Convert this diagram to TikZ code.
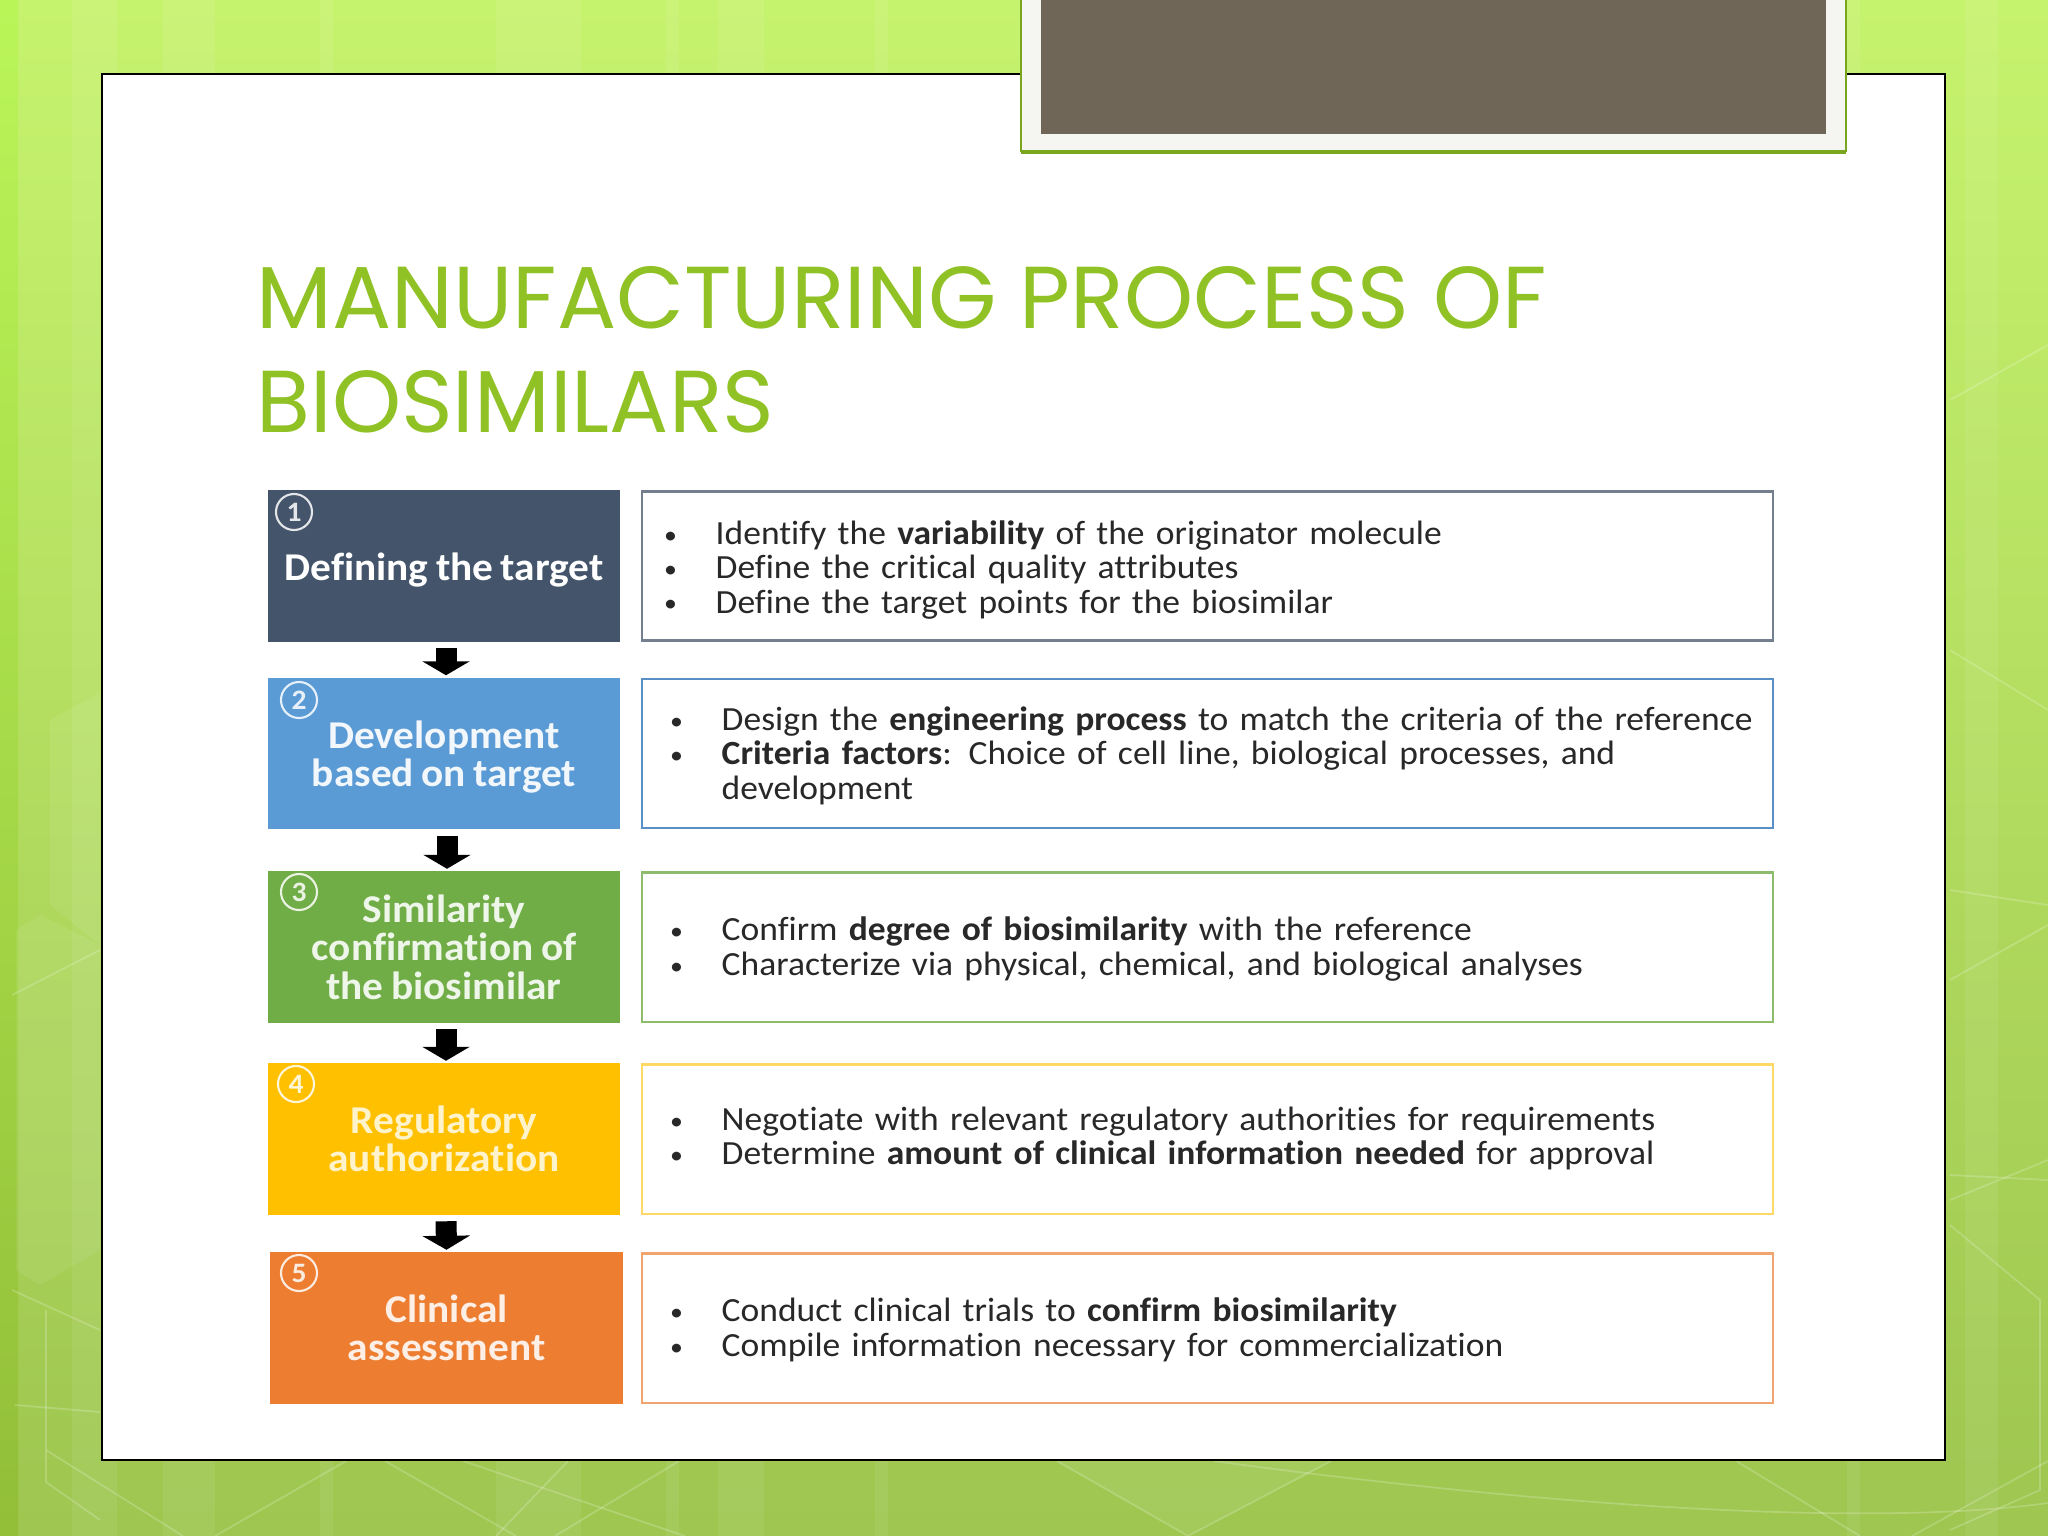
\documentclass[tikz,border=0pt]{standalone}
\usepackage{fontspec}
\usepackage{xcolor}
\setmainfont[Ligatures=NoCommon,FakeStretch=1.05,WordSpace=0.8]{Carlito}
\newfontfamily\titlefont{Poppins}
\usetikzlibrary{positioning,arrows.meta}
\definecolor{leaftop}{RGB}{198,243,110}
\definecolor{leafmid}{RGB}{178,226,90}
\definecolor{leafend}{RGB}{158,198,80}
\definecolor{edgetop}{RGB}{186,245,88}
\definecolor{edgeend}{RGB}{146,190,56}
\definecolor{titlegreen}{RGB}{144,194,38}
\definecolor{tabline}{RGB}{122,165,30}
\definecolor{tabbrown}{RGB}{112,102,88}
\definecolor{tabpale}{RGB}{245,245,242}
\definecolor{navybox}{RGB}{68,84,106}
\definecolor{bluebox}{RGB}{91,155,213}
\definecolor{greenbox}{RGB}{112,173,71}
\definecolor{yellowbox}{RGB}{255,192,0}
\definecolor{orangebox}{RGB}{237,125,49}
\definecolor{bodytext}{RGB}{40,40,40}
\newcommand{\bitem}{\makebox[0.445cm][l]{\hspace*{-0.07cm}\raisebox{0.3pt}{\scriptsize\textbullet}}}
\begin{document}
\begin{tikzpicture}[x=0.01cm,y=-0.01cm,
  stepbox/.style={fill=#1,draw=none,minimum width=3.52cm,minimum height=1.51cm,text=white,
    inner sep=0pt,align=center,font=\fontsize{11.2}{10.9}\selectfont\bfseries},
  infobox/.style={fill=white,draw=#1,line width=0.6pt,minimum width=11.3cm,minimum height=1.49cm,
    align=left,text width=10.6cm,text=bodytext,inner ysep=0pt,font=\fontsize{9.62}{9.8}\selectfont},
  numring/.style={circle,draw=white!85!#1,line width=0.6pt,inner sep=0pt,minimum size=0.36cm,text=white!85!#1,
    font=\fontsize{8}{8}\selectfont\bfseries},
  flowarrow/.style={line width=0.21cm,-{Triangle[width=0.47cm,length=0.14cm]},black,
    shorten <=0.06cm,shorten >=0.02cm},
  faintline/.style={white,opacity=0.2,line width=0.5pt},
  faintband/.style={fill=white,opacity=0.07,draw=none}]
\useasboundingbox (0,0) rectangle (2048,1536);
% background of the slide
\shade[top color=leaftop,middle color=leafmid,bottom color=leafend] (0,0) rectangle (2048,1536);
\shade[top color=edgetop,bottom color=edgeend] (0,0) rectangle (18,1536);
\foreach \xa/\xb in {72/117,163/215,320/333,496/581,666/679,718/764,875/888,1847/1860,1965/1998}
  \fill[faintband] (\xa,0) rectangle (\xb,1536);
% faint shapes on the left and the right
\fill[faintband] (16,930) -- (40,915) -- (100,945) -- (100,1250) -- (40,1285) -- (16,1270) -- cycle;
\fill[faintband] (50,720) -- (100,692) -- (100,945) -- (50,905) -- cycle;
\draw[faintline] (12,995) -- (100,950);
\draw[faintline] (12,1290) -- (100,1330);
\draw[faintline] (15,1405) -- (100,1412);
\draw[faintline] (46,1310) -- (46,1482) -- (100,1520);
\draw[faintline] (1950,400) -- (2048,345);
\draw[faintline] (1950,650) -- (2048,710);
\draw[faintline] (1950,890) -- (2048,905);
\draw[faintline] (1950,980) -- (2048,925);
\draw[faintline] (1950,1200) -- (2048,1160);
\draw[faintline] (1950,1175) -- (2048,1180);
\draw[faintline] (1950,1225) -- (2040,1300) -- (2040,1490) -- (1950,1530);
% faint lines at the foot
\fill[faintband] (1057,1461) -- (1188,1536) -- (1331,1461) -- cycle;
\draw[faintline] (46,1450) -- (183,1536);
\draw[faintline] (215,1536) -- (346,1461);
\draw[faintline] (385,1461) -- (516,1536);
\draw[faintline] (463,1461) -- (685,1536);
\draw[faintline] (496,1536) -- (568,1461);
\draw[faintline] (555,1536) -- (679,1461);
\draw[faintline] (1057,1461) -- (1188,1536) -- (1331,1461);
\draw[faintline] (1214,1461) .. controls (1500,1500) and (1850,1530) .. (2048,1503);
\draw[faintline] (1736,1461) -- (1860,1536);
\draw[faintline] (1912,1536) -- (2048,1461);
% white page
\filldraw[fill=white,draw=black,line width=0.7pt] (102,74) rectangle (1945,1460);
% tab at the top
\fill[tabpale] (1021,-5) rectangle (1846,153);
\draw[tabline,line width=0.8pt] (1021,-5) -- (1021,152);
\draw[tabline,line width=0.8pt] (1846,-5) -- (1846,152);
\draw[tabline,line width=1.1pt] (1021,152) -- (1846,152);
\fill[tabbrown] (1041,-5) rectangle (1826,134);
% title
\node[anchor=west,align=left,inner sep=0pt,text=titlegreen,
  font=\titlefont\fontsize{25}{29.5}\selectfont] (title) at (256,350) {MANUFACTURING PROCESS OF\\BIOSIMILARS};
% left column
\node[stepbox=navybox,text height=10.4pt] (define) at (444,566) {Defining the target};
\node[stepbox=bluebox,text=white!92!bluebox,text height=20.7pt] (develop) at (444,753.5) {Development\\based on target};
\node[stepbox=greenbox,text=white!88!greenbox] (confirm) at (444,947) {Similarity\\confirmation of\\the biosimilar};
\node[stepbox=yellowbox,text=white!80!yellowbox] (authorize) at (444,1139) {Regulatory\\authorization};
\node[stepbox=orangebox,text=white!88!orangebox] (assess) at (446.5,1328) {Clinical\\assessment};
% numbers
\node[numring=navybox] (num1) at (294,512) {1};
\node[numring=bluebox] (num2) at (299,700) {2};
\node[numring=greenbox] (num3) at (299,892) {3};
\node[numring=yellowbox] (num4) at (296,1084) {4};
\node[numring=orangebox] (num5) at (299,1273) {5};
% right column
\node[infobox=navybox!75,text height=8.8pt] (infoa) at (1207.5,566) {\hspace*{-0.06cm}\bitem Identify the \textbf{variability} of the originator molecule\\
\hspace*{-0.06cm}\bitem Define the critical quality attributes\\
\hspace*{-0.06cm}\bitem Define the target points for the biosimilar};
\node[infobox=bluebox!85!navybox,text height=7.9pt] (infob) at (1207.5,753.5) {\mbox{\bitem Design the \textbf{engineering process} to match the criteria of the reference}\\
\bitem \textbf{Criteria factors}: Choice of cell line, biological processes, and\\
\hspace*{0.445cm}development};
\node[infobox=greenbox!80,text height=7.9pt] (infoc) at (1207.5,947) {\bitem Confirm \textbf{degree of biosimilarity} with the reference\\
\bitem Characterize via physical, chemical, and biological analyses};
\node[infobox=yellowbox!60,text height=6.5pt] (infod) at (1207.5,1139) {\bitem Negotiate with relevant regulatory authorities for requirements\\
\bitem Determine \textbf{amount of clinical information needed} for approval};
\node[infobox=orangebox!70,text height=7.9pt] (infoe) at (1207.5,1328) {\bitem Conduct clinical trials to \textbf{confirm biosimilarity}\\
\bitem Compile information necessary for commercialization};
% arrows
\draw[flowarrow] ([xshift=0.02cm]define.south) -- ([xshift=0.02cm]develop.north);
\draw[flowarrow] ([xshift=0.03cm]develop.south) -- ([xshift=0.03cm]confirm.north);
\draw[flowarrow] ([xshift=0.02cm]confirm.south) -- ([xshift=0.02cm]authorize.north);
\draw[flowarrow] ([xshift=0.02cm]authorize.south) -- (assess.north);
\end{tikzpicture}
\end{document}
